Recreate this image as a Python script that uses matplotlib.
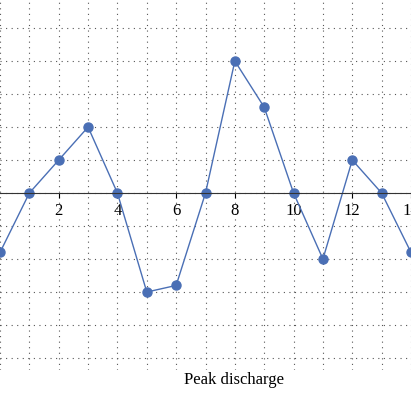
import matplotlib
matplotlib.use("Agg")
import matplotlib.pyplot as plt

x = [0, 1, 2, 3, 4, 5, 6, 7, 8, 9, 10, 11, 12, 13, 14]
y = [-1.8, 0, 1, 2, 0, -3, -2.8, 0, 4, 2.6, 0, -2, 1, 0, -1.8]
xticks = [2, 4, 6, 8, 10, 12, 14]

fig = plt.figure(figsize=(4.11, 4.11), dpi=100)
ax = fig.add_axes([0, 0.1, 1, 0.9])
ax.set_xlim(0.27, 13.89)
ax.set_ylim(-5.36, 5.85)
for s in ['top', 'right', 'left']:
    ax.spines[s].set_visible(False)
ax.spines['bottom'].set_position(('data', 0))
ax.spines['bottom'].set_color('#333333')
ax.set_xticks(xticks)
ax.set_xticklabels([str(t) for t in xticks], fontfamily='Liberation Serif', fontsize=12)
ax.set_xticks(range(0, 15), minor=True)
ax.set_yticks(range(-5, 6))
ax.tick_params(axis='y', left=False, labelleft=False)
ax.tick_params(axis='x', which='minor', length=0)
ax.grid(True, which='minor', axis='x', linestyle=(0, (1, 4)), color='#555555', linewidth=0.8)
ax.grid(True, which='major', axis='x', linestyle=(0, (1, 4)), color='#555555', linewidth=0.8)
ax.grid(True, axis='y', linestyle=(0, (1, 4)), color='#555555', linewidth=0.8)
ax.plot(x, y, color='#4a6fb5', linewidth=1, marker='o', markersize=6.5)
fig.text(0.57, 0.075, 'Peak discharge', ha='center', va='center',
         fontfamily='Liberation Serif', fontsize=12)
fig.savefig('out.png', dpi=100)
